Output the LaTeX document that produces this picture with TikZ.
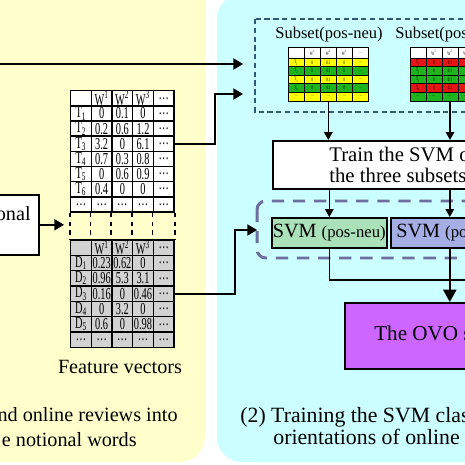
\documentclass[tikz,border=0pt]{standalone}
\usepackage{fontspec}
\setmainfont{Liberation Serif}
\newfontfamily\narrowfont{Liberation Serif}[FakeStretch=0.62]
\usetikzlibrary{positioning}
\usetikzlibrary{arrows.meta,calc}
\newdimen\PXunit
\PXunit=0.02cm

\definecolor{leftpanel}{RGB}{255,255,204}
\definecolor{rightpanel}{RGB}{204,255,255}
\definecolor{rowyellow}{RGB}{255,255,0}
\definecolor{rowgreen}{RGB}{30,180,30}
\definecolor{rowred}{RGB}{230,20,20}
\definecolor{svmgreen}{RGB}{170,225,185}
\definecolor{svmblue}{RGB}{165,175,230}
\definecolor{ovopurple}{RGB}{204,102,255}
\definecolor{subsetline}{RGB}{50,90,120}
\definecolor{groupline}{RGB}{110,110,160}

\newcommand{\subsettable}[3]{%
  \foreach \cell [count=\j from 0] in {{},W\textsuperscript{1},W\textsuperscript{2},W\textsuperscript{3},\ldots}
    \node[scell, minimum height=10.6\PXunit] (#1-0-\j) at ({#2+16*(\j+0.5)},53) {\cell};
  \foreach \rc [count=\i] in {#3}
    \foreach \cell [count=\j from 0] in {T\textsubscript{\i},0,0.1,0,\ldots}
      \node[scell, fill=\rc] (#1-\i-\j) at ({#2+16*(\j+0.5)},{58.3+8.54*(\i-0.5)})
        {\ifnum\i<5 \cell\else\ldots\fi};
}

\begin{document}
\begin{tikzpicture}
    [
    x=0.02cm, y=-0.02cm,
    font=\fontsize{11.5}{13}\selectfont,
    textonly/.style={inner sep=0pt},
    caption/.style={inner sep=0pt, font=\fontsize{12.4}{13}\selectfont},
    tcell/.style={draw, line width=0.9pt, fill=white, inner sep=0pt,
      minimum width=20.66\PXunit, minimum height=15.16\PXunit,
      font=\narrowfont\fontsize{9.5}{9.5}\selectfont},
    dcell/.style={tcell, fill=gray!35, minimum height=15.33\PXunit},
    scell/.style={draw, line width=0.5pt, fill=white, inner sep=0pt,
      minimum width=16\PXunit, minimum height=8.54\PXunit,
      font=\narrowfont\fontsize{3}{3}\selectfont},
    procbox/.style={draw, line width=0.9pt, fill=white, inner sep=0pt},
    svmbox/.style={procbox, minimum height=30\PXunit},
    arr/.style={line width=1pt, -{Triangle[length=5.5pt, width=6.3pt]}},
    downarr/.style={line width=0.9pt, -{Triangle[length=4.5pt, width=4.8pt]}},
    bigarr/.style={line width=1pt, -{Triangle[length=7pt, width=7.5pt]}},
    gapdash/.style={line width=1pt, dash pattern=on 2.5pt off 2.5pt},
    subsetbox/.style={draw=subsetline, line width=0.6pt, dash pattern=on 3pt off 2pt},
    groupbox/.style={draw=groupline, line width=1.7pt, dash pattern=on 7pt off 5pt, rounded corners=5pt},
    ]

    \useasboundingbox (0,0) rectangle (465,465);
    \fill[white] (0,0) rectangle (465,465);
    \fill[leftpanel, rounded corners=14pt] (-40,-40) rectangle (205,462);
    \fill[rightpanel, rounded corners=14pt] (217,-6) rectangle (520,462);

    % (1) feature vectors
    \foreach \row [count=\i from 0] in {
        {{},W\textsuperscript{1},W\textsuperscript{2},W\textsuperscript{3},\ldots},
        {T\textsubscript{1},0,0.1,0,\ldots},
        {T\textsubscript{2},0.2,0.6,1.2,\ldots},
        {T\textsubscript{3},3.2,0,6.1,\ldots},
        {T\textsubscript{4},0.7,0.3,0.8,\ldots},
        {T\textsubscript{5},0,0.6,0.9,\ldots},
        {T\textsubscript{6},0.4,0,0,\ldots},
        {\ldots,\ldots,\ldots,\ldots,\ldots}}
      \foreach \cell [count=\j from 0] in \row
        \node[tcell] (T-\i-\j) at ({70.7+20.66*(\j+0.5)},{90.7+15.16*(\i+0.5)}) {\cell};

    \foreach \row [count=\i from 0] in {
        {{},W\textsuperscript{1},W\textsuperscript{2},W\textsuperscript{3},\ldots},
        {D\textsubscript{1},0.23,0.62,0,\ldots},
        {D\textsubscript{2},0.96,5.3,3.1,\ldots},
        {D\textsubscript{3},0.16,0,0.46,\ldots},
        {D\textsubscript{4},0,3.2,0,\ldots},
        {D\textsubscript{5},0.6,0,0.98,\ldots},
        {\ldots,\ldots,\ldots,\ldots,\ldots}}
      \foreach \cell [count=\j from 0] in \row
        \node[dcell] (D-\i-\j) at ({70.7+20.66*(\j+0.5)},{240+15.33*(\i+0.5)}) {\cell};

    \foreach \k in {0,...,4}
      \draw[gapdash] (T-7-\k.south west) -- (D-0-\k.north west);
    \draw[gapdash] (T-7-4.south east) -- (D-0-4.north east);

    \node[procbox, minimum width=80\PXunit, minimum height=60\PXunit, anchor=north east] (notional) at (40,194) {};
    \node[textonly, anchor=east] at ($(notional.east)+(-9,-11)$) {onal};
    \coordinate (gapin) at (64,226);
    \draw[arr] (notional.east) -- (notional.east -| gapin);

    \node (featlabel) at (120,367) {Feature vectors};
    \node[textonly, anchor=east] at (178,415) {nd online reviews into};
    \node[textonly, anchor=east] at (137,440) {e notional words};

    % (2) training
    \draw[subsetbox] (255,19) rectangle (490,112);
    \subsettable{pn}{288.3}{rowyellow,rowgreen,rowyellow,rowgreen,rowyellow}
    \subsettable{pg}{410}{rowred,rowgreen,rowgreen,rowred,rowgreen}
    \node[font=\fontsize{9.4}{10}\selectfont] at (329,35) {Subset(pos-neu)};
    \node[textonly, anchor=west, font=\fontsize{9.4}{10}\selectfont] at (395,35) {Subset(pos};

    \node[procbox, anchor=north west, minimum width=260\PXunit, minimum height=48\PXunit] (train) at (272,140) {};
    \node[textonly, anchor=west, align=left, font=\fontsize{11.8}{12}\selectfont]
      at ($(train.west)+(57,0)$) {Train the SVM o\\the three subsets};
    \draw[downarr] (pn-5-2.south) -- (pn-5-2.south |- train.north);
    \draw[downarr] (pg-5-2.south) -- (pg-5-2.south |- train.north);

    \draw[groupbox] (257,201) rectangle (540,258);
    \node[svmbox, fill=svmgreen, anchor=north west, minimum width=115\PXunit] (svmpn) at (271,217)
      {SVM {\fontsize{9.5}{10}\selectfont(pos-neu)}};
    \node[svmbox, fill=svmblue, anchor=north west, minimum width=118\PXunit] (svmpg) at (390,217) {};
    \node[textonly, anchor=west] at ($(svmpg.west)+(6,0)$) {SVM {\fontsize{9.5}{10}\selectfont(po}};
    \draw[downarr] (train.south -| svmpn.north) -- (svmpn.north);
    \draw[downarr] (train.south -| svmpg.north) -- (svmpg.north);

    \node[procbox, fill=ovopurple, anchor=north west, minimum width=200\PXunit, minimum height=66\PXunit] (ovo) at (344,302) {};
    \node[textonly, anchor=west, font=\fontsize{12}{13}\selectfont] at ($(ovo.west)+(30,-2)$) {The OVO s};
    \coordinate (ovoin) at (475,280);
    \draw[line width=0.9pt] (svmpn.south) |- (ovoin);
    \draw[bigarr] (svmpg.south) -- (ovo.north -| svmpg.south);

    \node[caption, anchor=west] at (240,417) {(2) Training the SVM class};
    \node[caption, anchor=west] at (273,437) {orientations of online r};

    % links between the two parts
    \coordinate (leftin) at (-2,64);
    \coordinate (subin1) at (243,64);
    \coordinate (subin2) at (243,94);
    \coordinate (groupin) at (257,230);
    \draw[arr] (leftin) -- (subin1);
    \draw[arr] (T-3-4.east) -| ($(subin2)+(-28,0)$) -- (subin2);
    \draw[arr] (D-3-4.east) -| ($(groupin)+(-22,0)$) -- (groupin);
\end{tikzpicture}
\end{document}
